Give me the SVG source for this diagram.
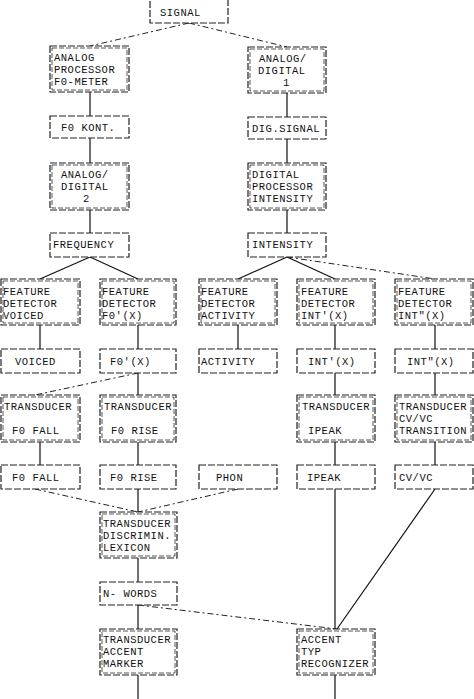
<svg xmlns="http://www.w3.org/2000/svg" width="474" height="699" viewBox="0 0 474 699">
<style>
.b{fill:#fff;stroke:#222;stroke-width:1.2;stroke-dasharray:7 2}
.bi{fill:none;stroke:#444;stroke-width:0.9;stroke-dasharray:5 2}
.t{font-family:"Liberation Mono","DejaVu Sans Mono",monospace;font-size:10.5px;letter-spacing:0.5px;fill:#111}
.c{stroke:#111;stroke-width:1.2;fill:none}
.d{stroke:#222;stroke-width:1;stroke-dasharray:6 3 2 3;fill:none}
</style>
<rect width="474" height="699" fill="#fff"/>
<g id="connectors">
<path class="d" d="M189,23 L90,46 M189,23 L287,47"/>
<path class="c" d="M90,92 V116 M287,93 V117 M90,138 V163 M287,139 V163 M90,210 V233 M287,210 V233"/>
<path class="c" d="M90,257 L40,279 M90,257 L138,279 M287,257 L238,279 M287,257 L335,279"/>
<path class="d" d="M287,257 L435,279"/>
<path class="c" d="M40,325 V349 M138,325 V349 M238,325 V349 M335,325 V349 M435,325 V349"/>
<path class="c" d="M138,373 V395 M335,373 V395 M435,373 V395"/>
<path class="d" d="M138,373 L35,395"/>
<path class="c" d="M40,442 V465 M138,442 V465 M335,442 V465 M435,442 V465"/>
<path class="d" d="M35,489 L138,512 M238,489 L138,512"/>
<path class="c" d="M138,489 V512 M335,489 V629 M435,489 L337,629"/>
<path class="c" d="M138,558 V582 M138,605 V629 M138,675 V699 M335,675 V699"/>
<path class="d" d="M138,605 L337,629"/>
</g>
<g id="signal"><rect class="b" x="150" y="-4" width="78" height="27"/><text class="t" x="160" y="16">SIGNAL</text></g>
<g id="analog_processor"><rect class="b" x="50" y="46" width="79" height="46"/><rect class="bi" x="52" y="48" width="75" height="42"/><text class="t" x="54" y="61">ANALOG</text><text class="t" x="54" y="73">PROCESSOR</text><text class="t" x="54" y="85">F0-METER</text></g>
<g id="analog_digital_1"><rect class="b" x="248" y="47" width="78" height="46"/><rect class="bi" x="250" y="49" width="74" height="42"/><text class="t" x="259" y="62">ANALOG/</text><text class="t" x="258" y="74">DIGITAL</text><text class="t" x="283" y="86">1</text></g>
<g id="f0_kont"><rect class="b" x="50" y="116" width="79" height="22"/><text class="t" x="61" y="131">F0 KONT.</text></g>
<g id="dig_signal"><rect class="b" x="248" y="117" width="78" height="22"/><text class="t" x="252" y="132">DIG.SIGNAL</text></g>
<g id="analog_digital_2"><rect class="b" x="50" y="163" width="79" height="47"/><rect class="bi" x="52" y="165" width="75" height="43"/><text class="t" x="61" y="178">ANALOG/</text><text class="t" x="61" y="190">DIGITAL</text><text class="t" x="83" y="202">2</text></g>
<g id="digital_processor"><rect class="b" x="248" y="163" width="78" height="47"/><rect class="bi" x="250" y="165" width="74" height="43"/><text class="t" x="252" y="178">DIGITAL</text><text class="t" x="252" y="190">PROCESSOR</text><text class="t" x="252" y="202">INTENSITY</text></g>
<g id="frequency"><rect class="b" x="50" y="233" width="79" height="24"/><text class="t" x="53" y="248">FREQUENCY</text></g>
<g id="intensity"><rect class="b" x="248" y="233" width="78" height="24"/><text class="t" x="252" y="248">INTENSITY</text></g>
<g id="fd_voiced"><rect class="b" x="1" y="279" width="79" height="46"/><rect class="bi" x="3" y="281" width="75" height="42"/><text class="t" x="3" y="295">FEATURE</text><text class="t" x="3" y="307">DETECTOR</text><text class="t" x="3" y="319">VOICED</text></g>
<g id="fd_f0x"><rect class="b" x="100" y="279" width="76" height="46"/><rect class="bi" x="102" y="281" width="72" height="42"/><text class="t" x="102" y="295">FEATURE</text><text class="t" x="102" y="307">DETECTOR</text><text class="t" x="102" y="319">F0'(X)</text></g>
<g id="fd_activity"><rect class="b" x="199" y="279" width="78" height="46"/><rect class="bi" x="201" y="281" width="74" height="42"/><text class="t" x="201" y="295">FEATURE</text><text class="t" x="201" y="307">DETECTOR</text><text class="t" x="201" y="319">ACTIVITY</text></g>
<g id="fd_int1"><rect class="b" x="297" y="279" width="78" height="46"/><rect class="bi" x="299" y="281" width="74" height="42"/><text class="t" x="301" y="295">FEATURE</text><text class="t" x="301" y="307">DETECTOR</text><text class="t" x="301" y="319">INT'(X)</text></g>
<g id="fd_int2"><rect class="b" x="395" y="279" width="78" height="46"/><rect class="bi" x="397" y="281" width="74" height="42"/><text class="t" x="398" y="295">FEATURE</text><text class="t" x="398" y="307">DETECTOR</text><text class="t" x="398" y="319">INT"(X)</text></g>
<g id="voiced"><rect class="b" x="1" y="349" width="79" height="24"/><text class="t" x="15" y="365">VOICED</text></g>
<g id="f0x"><rect class="b" x="100" y="349" width="76" height="24"/><text class="t" x="110" y="365">F0'(X)</text></g>
<g id="activity"><rect class="b" x="199" y="349" width="78" height="24"/><text class="t" x="201" y="365">ACTIVITY</text></g>
<g id="int1"><rect class="b" x="297" y="349" width="78" height="24"/><text class="t" x="308" y="365">INT'(X)</text></g>
<g id="int2"><rect class="b" x="395" y="349" width="78" height="24"/><text class="t" x="407" y="365">INT"(X)</text></g>
<g id="tr_f0fall"><rect class="b" x="1" y="395" width="79" height="47"/><rect class="bi" x="3" y="397" width="75" height="43"/><text class="t" x="4" y="410">TRANSDUCER</text><text class="t" x="12" y="434">F0 FALL</text></g>
<g id="tr_f0rise"><rect class="b" x="100" y="395" width="76" height="47"/><rect class="bi" x="102" y="397" width="72" height="43"/><text class="t" x="104" y="410">TRANSDUCER</text><text class="t" x="111" y="434">F0 RISE</text></g>
<g id="tr_ipeak"><rect class="b" x="297" y="395" width="78" height="47"/><rect class="bi" x="299" y="397" width="74" height="43"/><text class="t" x="302" y="410">TRANSDUCER</text><text class="t" x="308" y="434">IPEAK</text></g>
<g id="tr_cvvc"><rect class="b" x="395" y="395" width="78" height="47"/><rect class="bi" x="397" y="397" width="74" height="43"/><text class="t" x="399" y="410">TRANSDUCER</text><text class="t" x="399" y="422">CV/VC</text><text class="t" x="399" y="434">TRANSITION</text></g>
<g id="f0fall"><rect class="b" x="1" y="465" width="79" height="24"/><text class="t" x="12" y="481">F0 FALL</text></g>
<g id="f0rise"><rect class="b" x="100" y="465" width="76" height="24"/><text class="t" x="110" y="481">F0 RISE</text></g>
<g id="phon"><rect class="b" x="199" y="465" width="78" height="24"/><text class="t" x="216" y="481">PHON</text></g>
<g id="ipeak"><rect class="b" x="297" y="465" width="78" height="24"/><text class="t" x="307" y="481">IPEAK</text></g>
<g id="cvvc"><rect class="b" x="395" y="465" width="78" height="24"/><text class="t" x="399" y="481">CV/VC</text></g>
<g id="tr_lexicon"><rect class="b" x="100" y="512" width="77" height="46"/><rect class="bi" x="102" y="514" width="73" height="42"/><text class="t" x="103" y="527">TRANSDUCER</text><text class="t" x="103" y="539">DISCRIMIN.</text><text class="t" x="103" y="551">LEXICON</text></g>
<g id="n_words"><rect class="b" x="100" y="582" width="77" height="23"/><text class="t" x="103" y="597">N- WORDS</text></g>
<g id="tr_accent"><rect class="b" x="100" y="629" width="77" height="46"/><rect class="bi" x="102" y="631" width="73" height="42"/><text class="t" x="103" y="643">TRANSDUCER</text><text class="t" x="103" y="655">ACCENT</text><text class="t" x="103" y="667">MARKER</text></g>
<g id="accent_typ"><rect class="b" x="297" y="629" width="78" height="46"/><rect class="bi" x="299" y="631" width="74" height="42"/><text class="t" x="301" y="643">ACCENT</text><text class="t" x="301" y="655">TYP</text><text class="t" x="301" y="667">RECOGNIZER</text></g>
</svg>
